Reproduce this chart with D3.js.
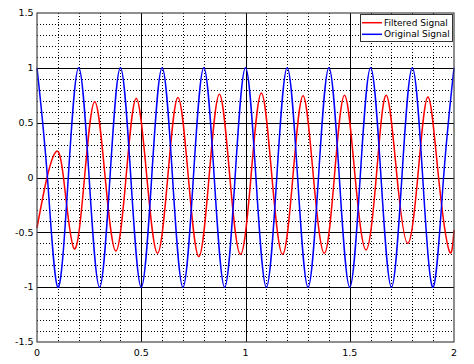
<!DOCTYPE html>
<html>
<head>
<meta charset="utf-8">
<script src="https://cdn.jsdelivr.net/npm/d3@7"></script>
<style>
  body { margin: 0; background: #fff; }
  svg { display: block; }
</style>
</head>
<body>
<div id="chart"></div>
<script>
// Original signal: peaks, zero crossings and troughs
const origT = [0, 0.05, 0.1, 0.15, 0.2, 0.25, 0.3, 0.35, 0.4, 0.45,
  0.5, 0.55, 0.6, 0.65, 0.7, 0.75, 0.8, 0.85, 0.9, 0.95,
  1, 1.05, 1.1, 1.15, 1.2, 1.25, 1.3, 1.35, 1.4, 1.45,
  1.5, 1.55, 1.6, 1.65, 1.7, 1.75, 1.8, 1.85, 1.9, 1.95, 2];
const origV = [1, 0, -1, 0, 1, 0, -1, 0, 1, 0,
  -1, 0, 1, 0, -1, 0, 1, 0, -1, 0,
  1, 0, -1, 0, 1, 0, -1, 0, 1, 0,
  -1, 0, 1, 0, -1, 0, 1, 0, -1, 0, 1];

// Filtered signal: start, peaks, zero crossings and troughs
const filtT = [0, 0.048, 0.091, 0.127, 0.178, 0.228, 0.277, 0.327, 0.378, 0.427,
  0.476, 0.527, 0.578, 0.627, 0.676, 0.726, 0.776, 0.825, 0.875, 0.925,
  0.976, 1.026, 1.076, 1.127, 1.178, 1.227, 1.276, 1.326, 1.378, 1.426,
  1.475, 1.526, 1.578, 1.627, 1.675, 1.727, 1.778, 1.826, 1.875, 1.926,
  1.977, 2];
const filtV = [-0.46, 0, 0.235, 0, -0.65, 0, 0.69, 0, -0.67, 0,
  0.72, 0, -0.69, 0, 0.73, 0, -0.72, 0, 0.76, 0,
  -0.70, 0, 0.77, 0, -0.70, 0, 0.745, 0, -0.69, 0,
  0.75, 0, -0.66, 0, 0.75, 0, -0.60, 0, 0.735, 0,
  -0.67, -0.48];

const xTicks = [0, 0.5, 1, 1.5, 2];
const yTicks = [-1.5, -1, -0.5, 0, 0.5, 1, 1.5];
const seriesNames = ["Filtered Signal", "Original Signal"];
const seriesColors = ["#ff0000", "#0000ff"];

const width = 474, height = 364;
const plotL = 37, plotR = 454, plotT = 13, plotB = 342;

const x = d3.scaleLinear().domain([0, 2]).range([plotL, plotR]);
const y = d3.scaleLinear().domain([-1.5, 1.5]).range([plotB, plotT]);

const svg = d3.select("#chart").append("svg")
  .attr("width", width)
  .attr("height", height)
  .style("font-family", "'DejaVu Sans', sans-serif");

// minor grid (dotted, every 0.1)
const isMajor = v => Math.abs(v * 2 - Math.round(v * 2)) < 1e-6;
const minor = svg.append("g")
  .attr("stroke", "#000")
  .attr("stroke-width", 1)
  .attr("stroke-dasharray", "1,2");
minor.selectAll("line.vx")
  .data(x.ticks(20).filter(v => !isMajor(v)))
  .join("line")
  .attr("x1", d => Math.round(x(d)) + 0.5).attr("x2", d => Math.round(x(d)) + 0.5)
  .attr("y1", plotT).attr("y2", plotB);
minor.selectAll("line.hy")
  .data(y.ticks(30).filter(v => !isMajor(v)))
  .join("line")
  .attr("y1", d => Math.round(y(d)) + 0.5).attr("y2", d => Math.round(y(d)) + 0.5)
  .attr("x1", plotL).attr("x2", plotR);

// major grid (solid)
const major = svg.append("g")
  .attr("stroke", "#000")
  .attr("stroke-width", 1);
major.selectAll("line.vx")
  .data(xTicks.slice(1, -1))
  .join("line")
  .attr("x1", d => Math.round(x(d)) + 0.5).attr("x2", d => Math.round(x(d)) + 0.5)
  .attr("y1", plotT).attr("y2", plotB);
major.selectAll("line.hy")
  .data(yTicks.slice(1, -1))
  .join("line")
  .attr("y1", d => Math.round(y(d)) + 0.5).attr("y2", d => Math.round(y(d)) + 0.5)
  .attr("x1", plotL).attr("x2", plotR);

// signals
const line = d3.line()
  .x(d => x(d[0]))
  .y(d => y(d[1]))
  .curve(d3.curveNatural);

svg.append("path")
  .datum(d3.zip(filtT, filtV))
  .attr("fill", "none")
  .attr("stroke", seriesColors[0])
  .attr("stroke-width", 1.5)
  .attr("d", line);

svg.append("path")
  .datum(d3.zip(origT, origV))
  .attr("fill", "none")
  .attr("stroke", seriesColors[1])
  .attr("stroke-width", 1.5)
  .attr("d", line);

// frame
svg.append("rect")
  .attr("x", plotL).attr("y", plotT)
  .attr("width", plotR - plotL).attr("height", plotB - plotT)
  .attr("fill", "none")
  .attr("stroke", "#444")
  .attr("stroke-width", 1.2);

// tick labels
svg.append("g")
  .attr("font-size", 9.5)
  .attr("text-anchor", "end")
  .selectAll("text")
  .data(yTicks)
  .join("text")
  .attr("x", 33.5)
  .attr("y", d => y(d))
  .attr("dy", "0.35em")
  .text(d => d);

svg.append("g")
  .attr("font-size", 9.5)
  .attr("text-anchor", "middle")
  .selectAll("text")
  .data(xTicks)
  .join("text")
  .attr("x", d => x(d))
  .attr("y", 353)
  .attr("dy", "0.35em")
  .text(d => d);

// legend
const legend = svg.append("g");
legend.append("rect")
  .attr("x", 360.5).attr("y", 14.5)
  .attr("width", 92).attr("height", 27)
  .attr("fill", "#fff")
  .attr("stroke", "#333")
  .attr("stroke-width", 1);

const items = legend.selectAll("g.item")
  .data(seriesNames)
  .join("g")
  .attr("transform", (d, i) => `translate(0,${22.7 + i * 11.6})`);
items.append("line")
  .attr("x1", 362).attr("x2", 382)
  .attr("stroke", (d, i) => seriesColors[i])
  .attr("stroke-width", 1.5);
items.append("text")
  .attr("x", 384)
  .attr("dy", "0.35em")
  .attr("font-size", 9)
  .text(d => d);
</script>
</body>
</html>
